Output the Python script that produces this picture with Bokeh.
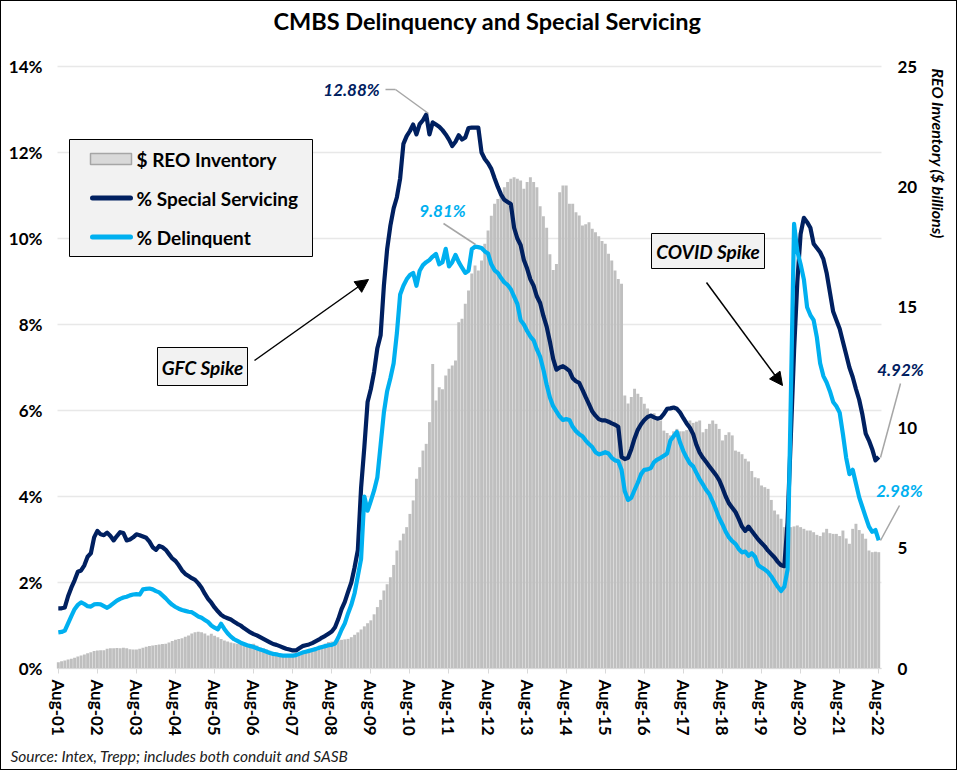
import math
from bokeh.plotting import figure
from bokeh.models import (Range1d, LinearAxis, FixedTicker, ColumnDataSource, Label,
                          Arrow, NormalHead, BoxAnnotation, PrintfTickFormatter)
from bokeh.embed import file_html
from bokeh.resources import INLINE

# ---------------- data (monthly, Aug-01 .. Aug-22) ----------------
tick_labels = ["Aug-01", "Aug-02", "Aug-03", "Aug-04", "Aug-05", "Aug-06", "Aug-07",
               "Aug-08", "Aug-09", "Aug-10", "Aug-11", "Aug-12", "Aug-13", "Aug-14",
               "Aug-15", "Aug-16", "Aug-17", "Aug-18", "Aug-19", "Aug-20", "Aug-21", "Aug-22"]

special_servicing = [
    1.40, 1.40, 1.42, 1.68, 1.88, 2.05, 2.25, 2.28, 2.40, 2.60, 2.68, 3.05,
    3.20, 3.12, 3.10, 3.16, 3.08, 2.98, 3.08, 3.17, 3.15, 2.98, 3.00, 3.05,
    3.12, 3.10, 3.07, 3.04, 2.95, 2.82, 2.76, 2.85, 2.82, 2.76, 2.66, 2.56,
    2.50, 2.40, 2.28, 2.20, 2.15, 2.10, 2.06, 1.98, 1.88, 1.74, 1.62, 1.53,
    1.42, 1.33, 1.25, 1.20, 1.17, 1.14, 1.09, 1.04, 1.00, 0.94, 0.89, 0.84,
    0.80, 0.77, 0.73, 0.69, 0.65, 0.61, 0.57, 0.55, 0.52, 0.49, 0.46, 0.44,
    0.42, 0.42, 0.47, 0.52, 0.54, 0.56, 0.59, 0.63, 0.67, 0.72, 0.76, 0.81,
    0.86, 0.96, 1.15, 1.38, 1.55, 1.78, 2.00, 2.35, 2.75, 4.20, 5.15, 6.20,
    6.50, 6.90, 7.45, 7.75, 8.90, 9.75, 10.30, 10.70, 10.96, 11.40, 12.20, 12.38,
    12.50, 12.65, 12.42, 12.66, 12.75, 12.88, 12.42, 12.70, 12.65, 12.60, 12.52, 12.42,
    12.30, 12.15, 12.25, 12.40, 12.30, 12.35, 12.57, 12.58, 12.58, 12.58, 12.00, 11.85,
    11.75, 11.62, 11.40, 11.20, 11.02, 10.90, 10.85, 10.80, 10.25, 10.00, 9.85, 9.50,
    9.30, 9.05, 8.90, 8.65, 8.50, 8.20, 7.95, 7.60, 7.20, 6.95, 7.00, 7.03,
    6.98, 6.92, 6.75, 6.68, 6.64, 6.48, 6.31, 6.15, 5.98, 5.88, 5.80, 5.77,
    5.77, 5.74, 5.70, 5.67, 5.62, 4.92, 4.87, 4.90, 5.10, 5.35, 5.55, 5.68,
    5.78, 5.85, 5.88, 5.84, 5.81, 5.83, 5.92, 6.04, 6.05, 6.07, 6.04, 5.95,
    5.82, 5.70, 5.60, 5.45, 5.20, 5.02, 4.90, 4.80, 4.70, 4.60, 4.50, 4.38,
    4.20, 4.00, 3.84, 3.74, 3.64, 3.48, 3.30, 3.20, 3.30, 3.20, 3.10, 3.00,
    2.92, 2.84, 2.74, 2.66, 2.58, 2.48, 2.40, 2.38, 3.40, 5.40, 7.40, 9.00,
    10.10, 10.48, 10.38, 10.25, 9.88, 9.78, 9.68, 9.52, 9.20, 8.75, 8.30, 8.10,
    7.90, 7.60, 7.30, 7.00, 6.78, 6.50, 6.25, 5.90, 5.46, 5.30, 5.10, 4.84,
    4.92]

delinquent = [
    0.84, 0.85, 0.88, 1.05, 1.22, 1.38, 1.48, 1.54, 1.50, 1.45, 1.44, 1.49,
    1.50, 1.49, 1.45, 1.41, 1.46, 1.52, 1.58, 1.62, 1.65, 1.67, 1.70, 1.72,
    1.73, 1.72, 1.84, 1.85, 1.86, 1.84, 1.80, 1.77, 1.70, 1.63, 1.55, 1.48,
    1.43, 1.39, 1.36, 1.34, 1.32, 1.31, 1.26, 1.21, 1.18, 1.13, 1.08, 1.00,
    0.95, 0.91, 1.04, 0.92, 0.82, 0.74, 0.68, 0.64, 0.60, 0.57, 0.54, 0.52,
    0.50, 0.47, 0.44, 0.42, 0.39, 0.36, 0.34, 0.33, 0.31, 0.30, 0.30, 0.30,
    0.30, 0.31, 0.34, 0.37, 0.39, 0.41, 0.43, 0.45, 0.48, 0.50, 0.52, 0.54,
    0.55, 0.58, 0.72, 0.90, 1.05, 1.28, 1.48, 1.75, 2.15, 2.55, 4.00, 3.67,
    3.90, 4.14, 4.45, 5.20, 5.95, 6.45, 6.75, 7.10, 7.80, 8.70, 8.90, 9.05,
    9.15, 9.20, 8.90, 9.25, 9.38, 9.45, 9.50, 9.58, 9.64, 9.40, 9.45, 9.76,
    9.35, 9.45, 9.62, 9.45, 9.32, 9.20, 9.25, 9.75, 9.81, 9.80, 9.78, 9.70,
    9.65, 9.40, 9.26, 9.20, 9.08, 8.98, 8.92, 8.82, 8.65, 8.48, 8.10, 8.00,
    7.85, 7.72, 7.63, 7.42, 7.25, 6.95, 6.60, 6.30, 6.10, 5.98, 5.86, 5.78,
    5.80, 5.78, 5.62, 5.52, 5.45, 5.40, 5.30, 5.22, 5.15, 5.03, 4.98, 5.00,
    5.03, 5.00, 4.90, 4.84, 4.82, 4.62, 4.12, 3.92, 3.97, 4.15, 4.32, 4.52,
    4.62, 4.63, 4.66, 4.80, 4.86, 4.90, 4.95, 5.00, 5.30, 5.40, 5.50, 5.25,
    5.05, 4.90, 4.77, 4.70, 4.55, 4.40, 4.28, 4.15, 4.05, 3.88, 3.70, 3.50,
    3.35, 3.18, 3.05, 2.96, 2.90, 2.78, 2.70, 2.72, 2.62, 2.68, 2.60, 2.40,
    2.35, 2.30, 2.24, 2.14, 2.02, 1.90, 1.80, 1.90, 2.30, 6.30, 10.34, 9.70,
    9.40, 9.05, 8.40, 8.22, 8.10, 7.70, 7.10, 6.80, 6.65, 6.45, 6.20, 6.10,
    5.95, 5.45, 4.90, 4.52, 4.62, 4.30, 3.98, 3.75, 3.52, 3.30, 3.18, 3.22,
    2.98]

reo_inventory = [
    0.26, 0.30, 0.33, 0.37, 0.41, 0.45, 0.50, 0.54, 0.58, 0.63, 0.68, 0.73,
    0.75, 0.76, 0.76, 0.82, 0.84, 0.84, 0.85, 0.84, 0.86, 0.84, 0.80, 0.79,
    0.79, 0.82, 0.86, 0.90, 0.93, 0.95, 0.98, 1.00, 1.02, 1.03, 1.08, 1.14,
    1.19, 1.22, 1.26, 1.32, 1.37, 1.45, 1.51, 1.53, 1.51, 1.45, 1.37, 1.44,
    1.36, 1.30, 1.22, 1.16, 1.12, 1.08, 1.05, 1.03, 1.01, 1.00, 1.01, 1.02,
    1.03, 0.95, 0.88, 0.84, 0.79, 0.74, 0.68, 0.65, 0.61, 0.58, 0.54, 0.54,
    0.53, 0.54, 0.58, 0.63, 0.68, 0.73, 0.78, 0.82, 0.88, 0.95, 1.03, 1.10,
    1.12, 1.15, 1.17, 1.19, 1.21, 1.23, 1.30, 1.40, 1.50, 1.62, 1.75, 1.88,
    2.00, 2.25, 2.55, 2.85, 3.24, 3.50, 3.79, 4.30, 4.90, 5.32, 5.60, 5.87,
    6.42, 6.98, 7.88, 8.36, 9.05, 9.33, 10.23, 12.65, 11.13, 11.68, 11.60, 12.17,
    12.45, 12.58, 12.79, 14.38, 14.52, 15.15, 15.70, 16.40, 16.74, 16.53, 16.94, 17.64,
    18.19, 18.80, 19.30, 19.50, 19.71, 19.99, 20.20, 20.34, 20.40, 20.34, 20.27, 19.92,
    20.20, 20.40, 20.20, 19.99, 19.20, 18.78, 18.30, 17.20, 16.55, 16.80, 19.78, 20.06,
    20.06, 19.30, 19.30, 18.95, 18.81, 18.40, 18.45, 18.53, 18.26, 18.12, 17.95, 17.75,
    17.64, 17.22, 16.94, 16.53, 16.18, 15.98, 11.34, 11.00, 11.27, 11.62, 11.41, 11.27,
    10.99, 10.80, 10.58, 10.60, 10.45, 10.30, 9.88, 9.78, 9.68, 9.85, 9.95, 9.85,
    9.85, 9.90, 10.30, 10.20, 10.25, 10.30, 9.81, 9.95, 10.16, 10.30, 10.16, 9.95,
    9.47, 9.70, 9.81, 9.68, 9.05, 9.00, 8.90, 8.71, 8.60, 8.20, 7.94, 7.90,
    7.60, 7.53, 7.46, 7.00, 6.56, 6.40, 6.22, 5.87, 6.00, 5.87, 5.90, 5.94,
    5.87, 5.80, 5.73, 5.73, 5.66, 5.55, 5.50, 5.65, 5.80, 5.62, 5.59, 5.59,
    5.50, 5.73, 5.40, 5.18, 5.80, 6.01, 5.75, 5.60, 5.39, 4.90, 4.83, 4.85,
    4.83]

pct_ticks = [0, 2, 4, 6, 8, 10, 12, 14]
reo_ticks = [0, 5, 10, 15, 20, 25]

month_idx = list(range(len(special_servicing)))
year_ticks = list(range(0, len(special_servicing), 12))

# ---------------- layout helpers (page pixels -> data) ----------------
# plotting area in page pixels: left 57, right 881, top 66 (=14%), bottom 668 (=0%)
FL, FR, FT, FB = 57, 881, 66, 668
X0, X1 = -0.25, 252.85
Y1 = 14.0
REO_MAX = 25.0
CW, CH = 955, 768           # canvas size (page has a 1px border around it)


def xd(px):
    return X0 + (px - FL) * (X1 - X0) / (FR - FL)


def yd(py):
    return (FB - py) * Y1 / (FB - FT)


NAVY = "#002060"
LIGHT = "#00b0f0"
BAR = "#bfbfbf"
FONT = "Lato"

# the frame covers the whole canvas so that no text gets clipped; axes are fixed in place
p = figure(frame_width=CW, frame_height=CH,
           min_border_left=0, min_border_right=0, min_border_top=0, min_border_bottom=0,
           x_range=Range1d(xd(1), xd(1 + CW)), y_range=Range1d(yd(1 + CH), yd(1)),
           output_backend="svg", toolbar_location=None,
           background_fill_color="white", border_fill_color="white",
           outline_line_color=None, styles={"border": "1px solid black"})
p.extra_y_ranges = {"reo": Range1d(yd(1 + CH) * REO_MAX / Y1, yd(1) * REO_MAX / Y1)}

src = ColumnDataSource(dict(m=month_idx, ss=special_servicing, dq=delinquent, reo=reo_inventory))

# grid (masked outside the plotting area)
p.xgrid.grid_line_color = None
p.ygrid.ticker = FixedTicker(ticks=pct_ticks)
p.ygrid.grid_line_color = "#e8e8e8"
p.ygrid.grid_line_width = 1.5
for l, r in ((xd(-5), xd(FL)), (xd(FR), xd(CW + 10))):
    p.add_layout(BoxAnnotation(left=l, right=r, level="underlay", fill_color="white",
                               fill_alpha=1.0, line_color=None))

p.vbar(x="m", top="reo", width=0.9, source=src, y_range_name="reo",
       fill_color=BAR, line_color=None)
p.line("m", "ss", source=src, line_color=NAVY, line_width=4.2, line_join="round")
p.line("m", "dq", source=src, line_color=LIGHT, line_width=4.2, line_join="round")

# axes
yax = p.yaxis[0]
yax.fixed_location = X0
yax.ticker = FixedTicker(ticks=pct_ticks)
yax.formatter = PrintfTickFormatter(format="%d%%")
yax.major_label_text_font = FONT
yax.major_label_text_font_style = "bold"
yax.major_label_text_font_size = "17px"
yax.major_label_text_color = "black"
yax.axis_line_color = None
yax.major_tick_line_color = None
yax.major_tick_out = 0
yax.major_tick_in = 0
yax.minor_tick_line_color = None
yax.major_label_standoff = 15

xax = p.xaxis[0]
xax.fixed_location = 0
xax.bounds = (X0, X1)
xax.ticker = FixedTicker(ticks=year_ticks)
xax.major_label_overrides = {t: lab for t, lab in zip(year_ticks, tick_labels)}
xax.major_label_orientation = -math.pi / 2
xax.major_label_text_font = FONT
xax.major_label_text_font_style = "bold"
xax.major_label_text_font_size = "17px"
xax.major_label_text_color = "black"
xax.axis_line_color = "#d9d9d9"
xax.major_tick_line_color = "#d9d9d9"
xax.major_tick_out = 5
xax.major_tick_in = 0
xax.minor_tick_line_color = None
xax.major_label_standoff = 6

rax = LinearAxis(y_range_name="reo", ticker=FixedTicker(ticks=reo_ticks), fixed_location=X1)
rax.major_label_text_font = FONT
rax.major_label_text_font_style = "bold"
rax.major_label_text_font_size = "17px"
rax.major_label_text_color = "black"
rax.axis_line_color = None
rax.major_tick_line_color = None
rax.major_tick_out = 0
rax.major_tick_in = 0
rax.minor_tick_line_color = None
rax.major_label_standoff = 16
p.add_layout(rax, "right")


def lab(text, px, py, size, color="black", style="bold", align="center", angle=0.0):
    p.add_layout(Label(x=xd(px), y=yd(py), text=text, text_font=FONT,
                       text_font_size=size, text_font_style=style, text_color=color,
                       text_align=align, text_baseline="middle", angle=angle))


def seg(x0, y0, x1, y1, color, width, head=None, cap="butt"):
    p.add_layout(Arrow(end=head, x_start=xd(x0), y_start=yd(y0), x_end=xd(x1), y_end=yd(y1),
                       line_color=color, line_width=width, line_cap=cap))


def box(l, t, r, b, fill, line, lw=1.0):
    p.add_layout(BoxAnnotation(left=xd(l), right=xd(r), top=yd(t), bottom=yd(b),
                               fill_color=fill, fill_alpha=1.0, line_color=line,
                               line_alpha=1.0, line_width=lw))


# title, source, right axis title
lab("CMBS Delinquency and Special Servicing", 487, 20, "23.5px")
lab("Source: Intex, Trepp; includes both conduit and SASB", 10, 755, "15.5px",
    color="#202020", style="italic", align="left")
lab("REO Inventory ($ billions)", 938, 68, "16px", style="bold italic", align="left",
    angle=-math.pi / 2)

# legend
box(69, 139, 312, 256, "#f2f2f2", "black", 1)
box(90, 153, 131, 164, "#d9d9d9", "#a6a6a6", 1.5)
seg(92, 197.5, 130, 197.5, NAVY, 5, cap="round")
seg(92, 236.5, 130, 236.5, LIGHT, 5, cap="round")
lab("$ REO Inventory", 136, 159, "19px", align="left")
lab("% Special Servicing", 136, 197.5, "19px", align="left")
lab("% Delinquent", 136, 236.5, "19px", align="left")

# value call-outs
GRAY = "#a6a6a6"
seg(385, 89, 395, 89, GRAY, 1.5)
seg(395, 89, 428, 113, GRAY, 1.5)
lab("12.88%", 351, 89, "17px", color=NAVY, style="bold italic")
seg(443, 223, 475, 244, GRAY, 1.5)
lab("9.81%", 442, 210, "17px", color=LIGHT, style="bold italic")
seg(900, 383, 880, 457, GRAY, 1.5)
lab("4.92%", 900, 369, "17px", color=NAVY, style="bold italic")
seg(899, 505, 880, 540, GRAY, 1.5)
lab("2.98%", 899, 490, "17px", color=LIGHT, style="bold italic")

# spike boxes and arrows
box(157, 347, 247, 385, "#f2f2f2", "black", 1)
lab("GFC Spike", 202, 366.5, "19px", style="bold italic")
seg(254, 360, 368, 279, "black", 1.5,
    head=NormalHead(size=13, fill_color="black", line_color="black"))
box(651, 233, 764, 268, "#f2f2f2", "black", 1)
lab("COVID Spike", 707.5, 251, "19px", style="bold italic")
seg(706, 282, 782, 385, "black", 1.5,
    head=NormalHead(size=13, fill_color="black", line_color="black"))

open("out.html", "w").write(file_html(p, INLINE))
